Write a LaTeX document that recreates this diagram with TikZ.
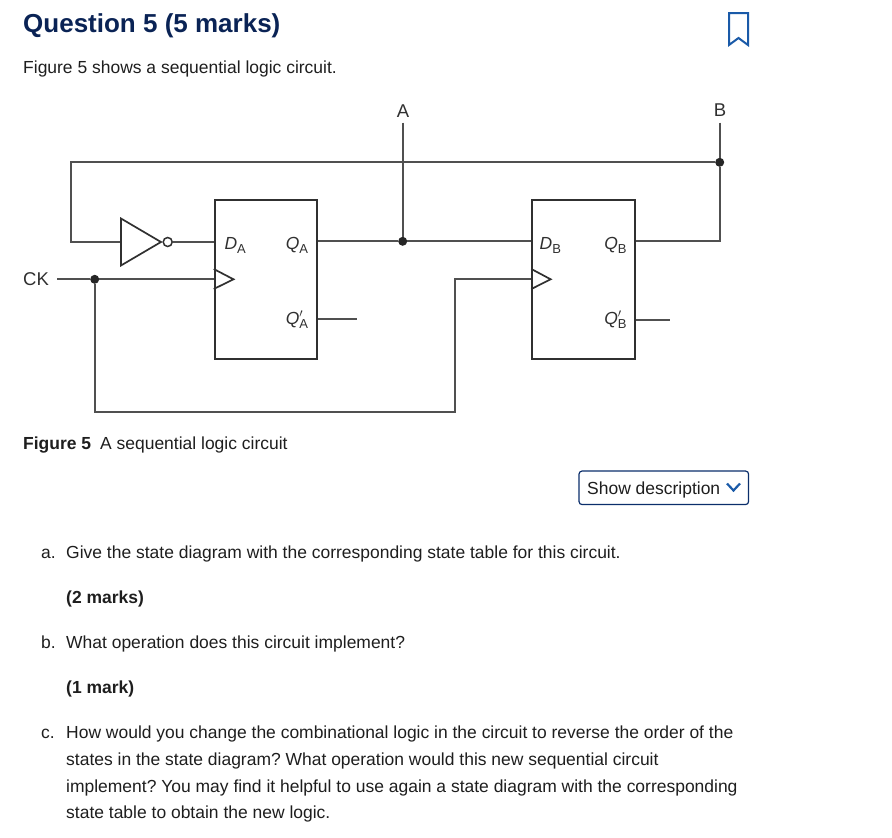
\documentclass[tikz,border=0pt]{standalone}
\usepackage{fontspec}
\setmainfont{Liberation Sans}
\usepackage{tikz}
\usetikzlibrary{positioning,shapes.geometric}
\definecolor{wirecol}{HTML}{505050}
\definecolor{boxcol}{HTML}{303030}
\definecolor{titlecol}{HTML}{0A2355}
\definecolor{bodycol}{HTML}{1E1E1E}
\definecolor{markcol}{HTML}{1A5AA8}
\definecolor{btncol}{HTML}{0B2E6B}
\newcommand{\sizetext}[1]{\fontsize{#1}{26.6}\selectfont}
\newcommand{\subpin}[1]{\raisebox{-4pt}{\fontsize{13}{13}\selectfont #1}}
\newcommand{\pinD}[1]{\textit{D}\subpin{#1}}
\newcommand{\pinQ}[1]{\textit{Q}\subpin{#1}}
\newcommand{\pinQn}[1]{\textit{Q}\rlap{\raisebox{0.5pt}{$^{\prime}$}}\subpin{#1}}
\tikzset{node distance=317.6pt, auto,
  wire/.style={draw=wirecol, line width=1.7pt},
  ffbox/.style={draw=boxcol, line width=1.9pt, minimum width=102.4pt, minimum height=159pt, inner sep=0pt},
  pinlabel/.style={text=boxcol, font=\sizetext{17.5}, inner sep=0pt},
  wirelabel/.style={text=boxcol, font=\sizetext{18.5}, inner sep=0pt},
  junction/.style={circle, fill=black!85, minimum size=9pt, inner sep=0pt},
  ckmark/.style={draw=boxcol, line width=1.7pt},
  para/.style={text=bodycol, font=\sizetext{17.47}\frenchspacing, anchor=base west, inner sep=0pt, align=left},
}

\begin{document}
\begin{tikzpicture}[x=1pt,y=-1pt]
  \useasboundingbox (0,0) rectangle (892,838);

  \node (title) [anchor=base west, inner sep=0pt, text=titlecol, font=\sizetext{26}\bfseries] at (23,32) {Question 5 (5 marks)};
  \node (intro) [para] at (23,73) {Figure 5 shows a sequential logic circuit.};

  % flip-flops
  \node (FFA) [ffbox] at (265.9,279.5) {};
  \node (FFB) [ffbox, right of=FFA] {};

  % inverter
  \node (Inv) [draw=boxcol, line width=1.7pt, shape=isosceles triangle, isosceles triangle stretches, minimum width=47pt, minimum height=40pt, inner sep=0pt, anchor=apex] at (163.2,242) {};
  \node (Bub) [draw=boxcol, line width=1.5pt, circle, minimum size=9pt, inner sep=0pt] at (167.7,242) {};

  % clock marks
  \draw[ckmark] (FFA.west |- 0,269) -- (233.5,279.3) -- (FFA.west |- 0,289);
  \draw[ckmark] (FFB.west |- 0,269) -- (550.7,279.3) -- (FFB.west |- 0,289);

  \node (DA) [pinlabel] at (235.2,245) {\pinD{A}};
  \node (QA) [pinlabel] at (297,245) {\pinQ{A}};
  \node (QnA) [pinlabel] at (297,319.5) {\pinQn{A}};
  \node (DB) [pinlabel] at (550.3,245) {\pinD{B}};
  \node (QB) [pinlabel] at (615.5,245) {\pinQ{B}};
  \node (QnB) [pinlabel] at (615.5,320) {\pinQn{B}};

  \node (CK) [wirelabel] at (36,279) {CK};
  \node (A) [wirelabel] at (403,111) {A};
  \node (B) [wirelabel] at (720,110) {B};

  \node (JA) [junction] at (402.7,241.3) {};
  \node (JB) [junction] at (719.7,162.3) {};
  \node (JC) [junction] at (94.7,279.3) {};

  \coordinate (Aend) at (402.7,122.7);
  \coordinate (Bend) at (719.7,122.7);
  \coordinate (CKend) at (57,279.3);
  \coordinate (QnAend) at (356.7,319.3);
  \coordinate (QnBend) at (670,320.3);

  \draw[wire] (Aend) -- (JA);
  \draw[wire] (Bend) -- (JB);
  \draw[wire] (JB) -- (71,162.3) |- (Inv.lower side);
  \draw[wire] (JB) |- (FFB.east |- JA);
  \draw[wire] (Bub.east) -- (Bub.east -| FFA.west);
  \draw[wire] (FFA.east |- JA) -- (JA);
  \draw[wire] (JA) -- (FFB.west |- JA);
  \draw[wire] (CKend) -- (JC);
  \draw[wire] (JC) -- (FFA.west |- JC);
  \draw[wire] (JC) |- (454.7,412) |- (FFB.west |- JC);
  \draw[wire] (FFA.east |- QnAend) -- (QnAend);
  \draw[wire] (FFB.east |- QnBend) -- (QnBend);

  \node (cap) [para] at (23,449) {\textbf{Figure 5}\hspace{9pt}A sequential logic circuit};

  % bookmark and button
  \draw[draw=markcol, line width=2pt] (729,13) -- (748,13) -- (748,45) -- (738.5,38) -- (729,45) -- cycle;
  \node (Show) [draw=btncol, line width=1.2pt, rounded corners=3pt, minimum width=169.5pt, minimum height=33.5pt, inner sep=0pt] at (663.8,487.8) {};
  \node (ShowText) [para] at (587,494) {Show description};
  \draw[draw=markcol, line width=2.2pt] (727,483.5) -- (733.5,490.5) -- (740,483.5);

  % questions
  \node (la) [para] at (41,558) {a.};
  \node (qa) [para] at (66,558) {Give the state diagram with the corresponding state table for this circuit.};
  \node (ma) [para] at (66,603) {\textbf{(2 marks)}};
  \node (lb) [para] at (41,648) {b.};
  \node (qb) [para] at (66,648) {What operation does this circuit implement?};
  \node (mb) [para] at (66,693) {\textbf{(1 mark)}};
  \node (lc) [para] at (41,738) {c.};
  \node (qc) [para, anchor=north west] at (66,726) {How would you change the combinational logic in the circuit to reverse the order of the\\
    states in the state diagram? What operation would this new sequential circuit\\
    implement? You may find it helpful to use again a state diagram with the corresponding\\
    state table to obtain the new logic.};
\end{tikzpicture}
\end{document}
